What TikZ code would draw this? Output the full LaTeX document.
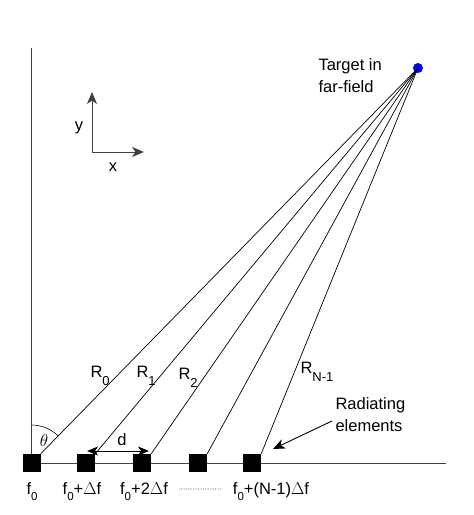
\documentclass[tikz,border=0pt]{standalone}
\usepackage{fontspec}
\setmainfont{Liberation Sans}
\usetikzlibrary{arrows.meta}
\newcommand{\rsub}[1]{\raisebox{-8pt}{\fontsize{13}{13}\selectfont #1}}
\newcommand{\fsub}[1]{\raisebox{-6pt}{\fontsize{11.5}{11.5}\selectfont #1}}

\begin{document}
\begin{tikzpicture}[x=1pt,y=-1pt,font=\fontsize{16.5}{22}\selectfont,
	elem/.style={fill=black,minimum size=18pt,inner sep=0pt},
	target/.style={circle,fill=blue,minimum size=10pt,inner sep=0pt},
	ray/.style={line width=0.7pt},
	axis/.style={line width=0.9pt,black!75},
	tipa/.style={-{Stealth[length=12pt,width=10pt,inset=3.5pt]}},
	ptr/.style={line width=0.9pt,tipa},
	dim/.style={line width=0.9pt,{Stealth[length=11pt,width=9pt,inset=3pt]}-{Stealth[length=11pt,width=9pt,inset=3pt]}}]
		
		\useasboundingbox (0,0) rectangle (474,515);
		
		\draw[axis] (31,48) -- (31,463) -- (446,463);
		
		\node[elem] (e0) at (31.5,463) {};
		\node[elem] (e1) at (86,463) {};
		\node[elem] (e2) at (142,463) {};
		\node[elem] (e3) at (198,463) {};
		\node[elem] (e4) at (252,463) {};
		
		\node[target] (tgt) at (418,68) {};
		
		\draw[ray] (tgt.center) -- (e0.north east);
		\draw[ray] (tgt.center) -- (e1.north east);
		\draw[ray] (tgt.center) -- (e2.north east);
		\draw[ray] (tgt.center) -- (e3.north east);
		\draw[ray] (tgt.center) -- (e4.north east);
		
		\node[anchor=west,align=left] (tgtlbl) at (315,76) {Target in\\far-field};
		
		\node[anchor=base west] (r0) at (87,377) {R\rsub{0}};
		\node[anchor=base west] (r1) at (133,377) {R\rsub{1}};
		\node[anchor=base west] (r2) at (175,379) {R\rsub{2}};
		\node[anchor=base west] (rn) at (297,373) {R\rsub{N-1}};
		
		\draw[line width=0.6pt] (e0.center) ++(0,-38) arc[start angle=-90,end angle=-45.6,radius=38];
		\node (th) at (44,440) {$\theta$};
		
		\draw[dim] ([xshift=1pt,yshift=12pt]e1.center) -- ([xshift=7pt,yshift=12pt]e2.center);
		\node[anchor=base] (d) at (122,445) {d};
		
		\node[anchor=west,align=left] (rad) at (332,414.5) {Radiating\\elements};
		\coordinate (tip) at (273,449);
		\draw[ptr] ([yshift=-6.5pt]rad.west) -- (tip);
		
		\node[anchor=base] (l0) at (32,494) {f\fsub{0}};
		\node[anchor=base] (l1) at (82,494) {f\fsub{0}+$\Delta$f};
		\node[anchor=base] (l2) at (144,494) {f\fsub{0}+2$\Delta$f};
		\node[anchor=base] (l4) at (271,494) {f\fsub{0}+(N-1)$\Delta$f};
		\draw[densely dotted,line width=0.7pt,black!70,shorten <=8pt,shorten >=8pt] ([yshift=2pt]l2.east) -- ([yshift=2pt]l4.west);
		
		% coordinate axes
		\coordinate (o) at (92,152);
		\draw[axis,tipa] (o) -- (92,92);
		\draw[axis,tipa] (o) -- (144,152);
		\node (ylbl) at (79,128) {y};
		\node (xlbl) at (113,167) {x};
		
	\end{tikzpicture}
\end{document}
